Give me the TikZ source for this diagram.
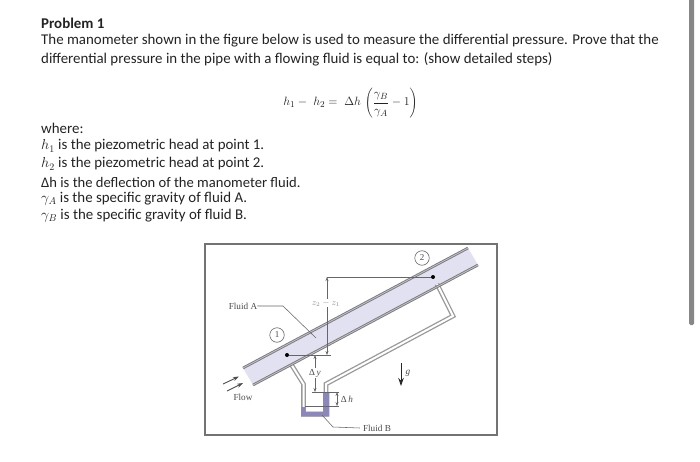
\documentclass[tikz,border=0pt]{standalone}
\usepackage{fontspec}
\setmainfont{Carlito}
\newfontfamily\figfont{Liberation Serif}
\usetikzlibrary{arrows.meta}
\definecolor{pipefill}{RGB}{225,225,241}
\definecolor{wallc}{RGB}{120,120,125}
\definecolor{fluidb}{RGB}{140,135,185}
\definecolor{txt}{RGB}{35,35,35}
\definecolor{figtxt}{RGB}{75,75,75}
\tikzset{
 x=1pt,y=-1pt,
 body/.style={anchor=west,inner sep=0pt,text=txt,font=\fontsize{14.9}{18}\selectfont},
 fig/.style={inner sep=0pt,text=figtxt,font=\figfont\fontsize{9.2}{11}\selectfont},
 thinl/.style={draw=black!60,line width=0.55pt},
 dim/.style={draw=black!60,line width=0.55pt,{Stealth[length=4pt,width=3pt]}-{Stealth[length=4pt,width=3pt]}},
 wall/.style={draw=wallc,line width=2.6pt},
 wallin/.style={draw=wallc!45,line width=0.8pt},
 tubeo/.style={draw=black!40,line width=4.6pt},
 tubei/.style={draw=white,line width=2pt},
 bubble/.style={circle,draw=black!60,line width=0.6pt,minimum size=14.5pt,inner sep=0pt,fill=white,text=figtxt,font=\figfont\fontsize{9}{10}\selectfont},
 pt/.style={circle,fill=black,inner sep=0pt,minimum size=4pt},
 flowarr/.style={draw=black!70,line width=0.9pt,-{Stealth[length=6pt,width=4pt]}},
}
\begin{document}
\begin{tikzpicture}
\useasboundingbox (0,0) rectangle (700,462);
\fill[white] (0,0) rectangle (700,462);
\node[body,font=\fontsize{14.9}{18}\selectfont\bfseries] (title) at (41,23) {Problem 1};
\node[body] (l1) at (41,41) {The manometer shown in the figure below is used to measure the differential pressure. Prove that the};
\node[body] (l2) at (41,59) {differential pressure in the pipe with a flowing fluid is equal to: (show detailed steps)};
\node[inner sep=0pt,text=txt,font=\fontsize{13.2}{15}\selectfont] (eq) at (350.5,103) {$\displaystyle h_1 -\; h_2 =\; \Delta h\,\left(\frac{\gamma_B}{\gamma_A} - 1\right)$};
\node[body] (w0) at (41,128) {where:};
\node[body] (w1) at (41,146) {$h_1$ is the piezometric head at point 1.};
\node[body] (w2) at (41,164) {$h_2$ is the piezometric head at point 2.};
\node[body,font=\fontsize{14.6}{18}\selectfont] (w3) at (41,182) {Δh is the deflection of the manometer fluid.};
\node[body] (w4) at (41,199) {$\gamma_A$ is the specific gravity of fluid A.};
\node[body] (w5) at (41,216) {$\gamma_B$ is the specific gravity of fluid B.};
% frame
\draw[draw=black!55,line width=1.1pt] (205,244) rectangle (497,435);
% pipe
\coordinate (ua) at (243,368); \coordinate (ub) at (468,248);
\coordinate (la) at (253,385); \coordinate (lb) at (478,265);
\fill[pipefill] (ua) -- (ub) -- (lb) -- (la) -- cycle;
% tube
\coordinate (t1) at (291,364); \coordinate (t2) at (303.5,384); \coordinate (t3) at (303.5,414);
\coordinate (t4) at (326,414); \coordinate (t5) at (326,384); \coordinate (t6) at (453,316); \coordinate (t7) at (437,284);
\draw[tubeo,line join=miter] (t1) -- (t2) -- (t3) -- (t4) -- (t5) -- (t6) -- (t7);
\draw[tubei,line join=miter] (t1) -- (t2) -- (t3) -- (t4) -- (t5) -- (t6) -- (t7);
% fluid B
\fill[fluidb] (301,407) -- (305.3,407) -- (305.3,411.8) -- (323,411.8) -- (323,392) -- (329.3,392) -- (329.3,416.5) -- (301,416.5) -- cycle;
\draw[wall] (ua) -- (ub);
\draw[wallin] (ua) -- (ub);
\draw[wall] (la) -- (lb);
\draw[wallin] (la) -- (lb);
% dots and bubbles
\node[pt] (p1) at (287,355) {};
\node[pt] (p2) at (433,277) {};
\node[bubble] (b1) at (277,335) {1};
\node[bubble] (b2) at (422,258) {2};
% fluid A
\node[fig] (fa) at (243,306) {Fluid A};
\coordinate (famid) at (283,306);
\coordinate (faend) at (316,338);
\draw[thinl] (fa.east) -- (famid) -- (faend);
% z2-z1
\coordinate (zt) at (327,277); \coordinate (zb) at (327,355);
\coordinate (zbr) at (331,355);
\draw[thinl] (p2) -- (zt) ;
\draw[thinl] (p1) -- (zbr);
\draw[dim] (zt) -- (zb);
\node[fig,fill=white,inner sep=1pt,text=figtxt!60] (zl) at (326,303) {$z_2-z_1$};
% Dy
\coordinate (dyt) at (315,355); \coordinate (dyb) at (315,392);
\draw[dim] (dyt) -- (dyb);
\node[fig,fill=white,inner sep=1pt] (dyl) at (315,373) {Δ\,\textit{y}};
\coordinate (hl1) at (312,392); \coordinate (hl2) at (339,392);
\coordinate (hl3) at (305,406); \coordinate (hl4) at (339,406);
\draw[thinl] (hl1) -- (hl2);
\draw[thinl] (hl3) -- (hl4);
% Dh
\coordinate (dht) at (337,392); \coordinate (dhb) at (337,406);
\draw[dim] (dht) -- (dhb);
\node[fig] (dhl) at (347,399) {Δ\,\textit{h}};
% fluid B label
\node[fig] (fb) at (377,428) {Fluid B};
\coordinate (fbm) at (333,427); \coordinate (fbe) at (322,415);
\draw[thinl] (fb.west) ++(-3,0) -- (fbm) -- (fbe);
% g
\coordinate (g1) at (401,363); \coordinate (g2) at (401,386);
\draw[draw=black!85,line width=0.9pt,-{Stealth[length=8pt,width=5.5pt]}] (g1) -- (g2);
\node[fig] (gl) at (408,373) {\textit{g}};
% flow
\coordinate (f1a) at (223,384); \coordinate (f1b) at (239,376.5);
\coordinate (f2a) at (227,391); \coordinate (f2b) at (243,383);
\draw[flowarr] (f1a) -- (f1b);
\draw[flowarr] (f2a) -- (f2b);
\node[fig] (fl) at (243,397) {Flow};
% scrollbar
\fill[black!47,rounded corners=1.5pt] (689,-5) rectangle (694,325);
\end{tikzpicture}
\end{document}
